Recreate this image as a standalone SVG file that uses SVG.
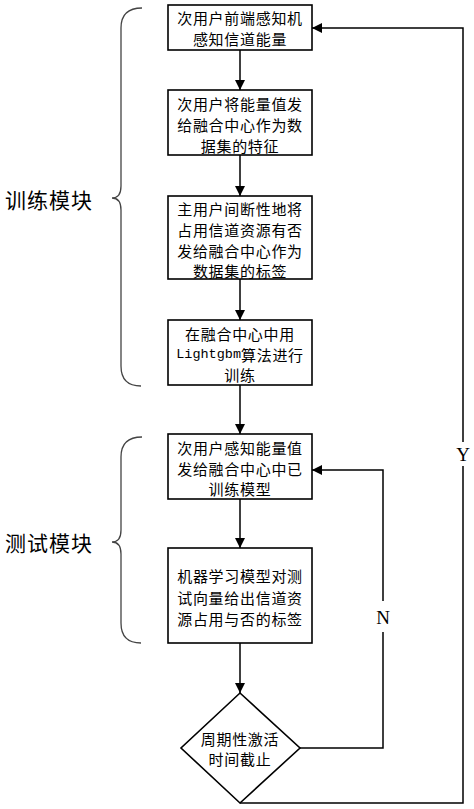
<svg xmlns="http://www.w3.org/2000/svg" width="474" height="809" viewBox="0 0 474 809">
<style>
.box{fill:#fff;stroke:#000;stroke-width:1.6}
.t{font-family:"Noto Sans CJK SC","Liberation Sans",sans-serif;font-size:15px;fill:#000;text-anchor:middle;dominant-baseline:central;letter-spacing:0.7px}
.lbl{font-family:"Noto Sans CJK SC",sans-serif;font-size:21px;fill:#000;dominant-baseline:central;letter-spacing:1px}
.yn{font-family:"Liberation Serif",serif;font-size:19px;fill:#000;text-anchor:middle;dominant-baseline:central}
.c{fill:none;stroke:#000;stroke-width:1.5}
.br{fill:none;stroke:#444;stroke-width:1.3}
</style>
<defs>
<marker id="ah" viewBox="0 0 10 10" refX="10" refY="5" markerWidth="10" markerHeight="10" markerUnits="userSpaceOnUse" orient="auto">
<path d="M0,0 L10,5 L0,10 Z" fill="#000"/>
</marker>
</defs>
<rect width="474" height="809" fill="#fff"/>
<g id="connectors">
<line class="c" x1="240" y1="50" x2="240" y2="90" marker-end="url(#ah)"/>
<line class="c" x1="240" y1="155" x2="240" y2="196" marker-end="url(#ah)"/>
<line class="c" x1="240" y1="279" x2="240" y2="320" marker-end="url(#ah)"/>
<line class="c" x1="240" y1="385" x2="240" y2="434" marker-end="url(#ah)"/>
<line class="c" x1="240" y1="499" x2="240" y2="548" marker-end="url(#ah)"/>
<line class="c" x1="240" y1="643" x2="240" y2="693" marker-end="url(#ah)"/>
<polyline class="c" points="300,748 383,748 383,470 312,470" marker-end="url(#ah)"/>
<polyline class="c" points="240,803 463,803 463,28 312,28" marker-end="url(#ah)"/>
<rect x="375" y="601" width="16" height="31" fill="#fff"/>
<text class="yn" x="383" y="617">N</text>
<rect x="455" y="442" width="16" height="24" fill="#fff"/>
<text class="yn" x="463" y="454">Y</text>
</g>
<g id="brace-train">
<path class="br" d="M142,8 Q121,8 121,28 L121,186 Q121,198 112,198 Q121,198 121,210 L121,366 Q121,386 141,386"/>
<text class="lbl" x="5" y="199">训练模块</text>
</g>
<g id="brace-test">
<path class="br" d="M142,437 Q121,437 121,457 L121,530 Q121,542 112,542 Q121,542 121,554 L121,623 Q121,643 141,643"/>
<text class="lbl" x="5" y="542">测试模块</text>
</g>
<g id="n1">
<rect class="box" x="168" y="5" width="144" height="45"/>
<text class="t" x="240" y="17">次用户前端感知机</text>
<text class="t" x="240" y="38">感知信道能量</text>
</g>
<g id="n2">
<rect class="box" x="168" y="90" width="144" height="65"/>
<text class="t" x="240" y="103">次用户将能量值发</text>
<text class="t" x="240" y="124">给融合中心作为数</text>
<text class="t" x="240" y="145">据集的特征</text>
</g>
<g id="n3">
<rect class="box" x="168" y="196" width="144" height="83"/>
<text class="t" x="240" y="208">主用户间断性地将</text>
<text class="t" x="240" y="229">占用信道资源有否</text>
<text class="t" x="240" y="250">发给融合中心作为</text>
<text class="t" x="240" y="270">数据集的标签</text>
</g>
<g id="n4">
<rect class="box" x="168" y="320" width="144" height="65"/>
<text class="t" x="240" y="333">在融合中心中用</text>
<text class="t" x="240" y="354"><tspan font-family="Liberation Mono,monospace" font-size="13.5" letter-spacing="0">Lightgbm</tspan>算法进行</text>
<text class="t" x="240" y="374">训练</text>
</g>
<g id="n5">
<rect class="box" x="168" y="434" width="144" height="65"/>
<text class="t" x="240" y="447">次用户感知能量值</text>
<text class="t" x="240" y="468">发给融合中心中已</text>
<text class="t" x="240" y="488">训练模型</text>
</g>
<g id="n6">
<rect class="box" x="168" y="548" width="144" height="95"/>
<text class="t" x="240" y="575">机器学习模型对测</text>
<text class="t" x="240" y="597">试向量给出信道资</text>
<text class="t" x="240" y="618">源占用与否的标签</text>
</g>
<g id="d1">
<polygon class="box" points="240,693 300,748 240,803 181,748"/>
<text class="t" x="240" y="738">周期性激活</text>
<text class="t" x="240" y="758">时间截止</text>
</g>
</svg>
